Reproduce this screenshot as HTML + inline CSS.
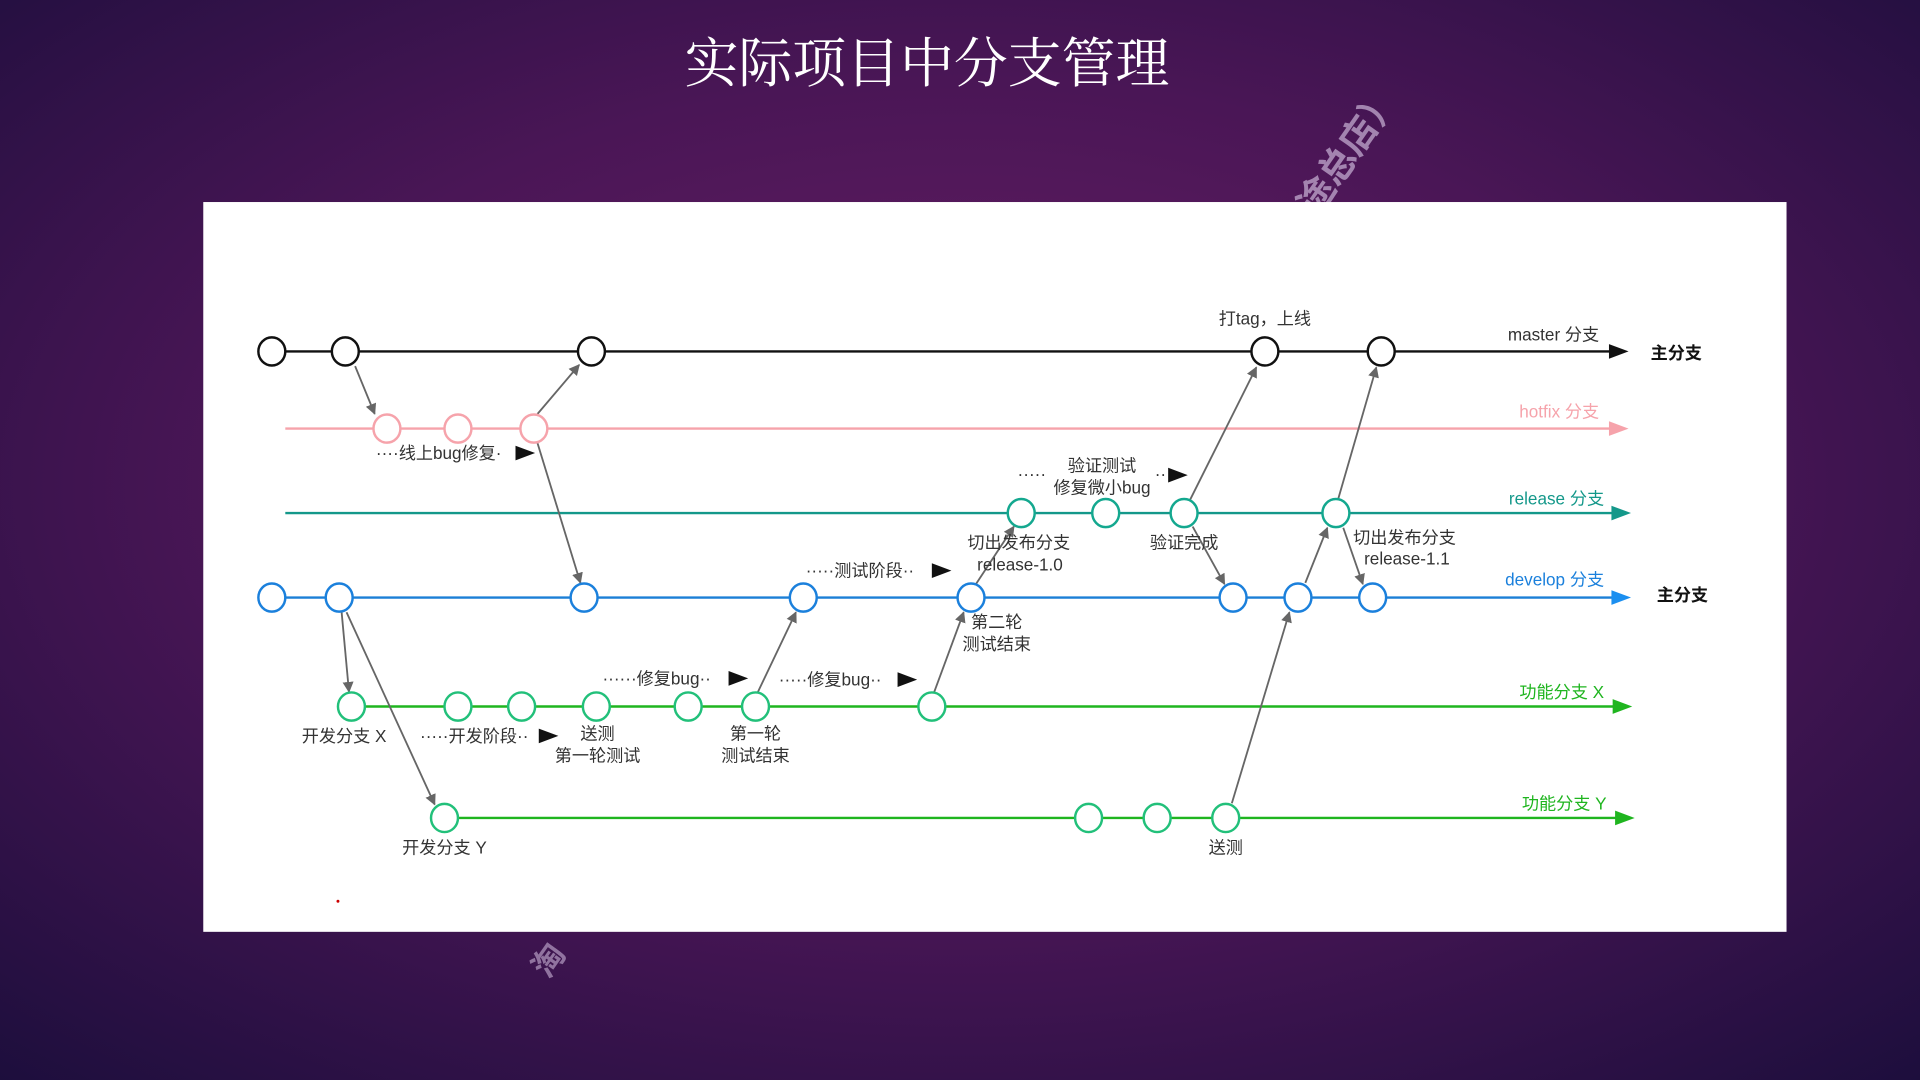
<!DOCTYPE html>
<html><head><meta charset="utf-8"><style>
html,body{margin:0;padding:0;width:1920px;height:1080px;overflow:hidden;background:#2a1048;}
svg{display:block}
.t{font-family:"Liberation Sans","Noto Sans CJK SC",sans-serif;font-size:14px;fill:#333;}
</style></head><body>
<svg width="1920" height="1080" viewBox="0 0 1568 882" xmlns="http://www.w3.org/2000/svg">
<defs>
<radialGradient id="bg" cx="0.5" cy="0.45" r="0.75">
<stop offset="0" stop-color="#6a1f66"/><stop offset="0.5" stop-color="#4a1656"/><stop offset="1" stop-color="#1c0e3c"/>
</radialGradient>
<marker id="ag" viewBox="0 0 10 10" refX="9" refY="5" markerWidth="9" markerHeight="13" orient="auto" markerUnits="userSpaceOnUse"><path d="M0,0L10,5L0,10z" fill="#666"/></marker>
</defs>
<rect width="1568" height="882" fill="url(#bg)"/>
<text x="757" y="67" text-anchor="middle" font-family="'Noto Serif CJK SC',serif" font-size="44" fill="#fff">实际项目中分支管理</text>
<text x="1075" y="178" font-family="'Noto Sans CJK SC',sans-serif" font-size="30" font-weight="bold" fill="#c9b3d6" opacity="0.7" transform="rotate(-55 1075 178)">途总店）</text>
<rect x="166" y="165" width="1293" height="596" fill="#fff"/>
<text x="448" y="800" font-family="'Noto Sans CJK SC',sans-serif" font-size="26" font-weight="bold" fill="#c9b3d6" opacity="0.6" transform="rotate(-55 448 800)">淘</text>

<!-- lines -->
<line x1="222" y1="287" x2="1315" y2="287" stroke="#111" stroke-width="2"/><path d="M1314,281L1330,287L1314,293z" fill="#111"/>
<line x1="233" y1="350" x2="1315" y2="350" stroke="#f6a3ab" stroke-width="2"/><path d="M1314,344L1330,350L1314,356z" fill="#f6a3ab"/>
<line x1="233" y1="419" x2="1317" y2="419" stroke="#14988a" stroke-width="2"/><path d="M1316,413L1332,419L1316,425z" fill="#14988a"/>
<line x1="222" y1="488" x2="1317" y2="488" stroke="#1b7fd6" stroke-width="2"/><path d="M1316,482L1332,488L1316,494z" fill="#1b8ff0"/>
<line x1="287" y1="577" x2="1318" y2="577" stroke="#1fb51f" stroke-width="2"/><path d="M1317,571L1333,577L1317,583z" fill="#1fb51f"/>
<line x1="363" y1="668" x2="1320" y2="668" stroke="#1fb51f" stroke-width="2"/><path d="M1319,662L1335,668L1319,674z" fill="#1fb51f"/>

<!-- arrows -->
<g stroke="#666" stroke-width="1.5" marker-end="url(#ag)" fill="none">
<line x1="290" y1="299" x2="306" y2="338"/>
<line x1="439" y1="338" x2="473" y2="298"/>
<line x1="439" y1="362" x2="474" y2="476"/>
<line x1="279" y1="500" x2="285" y2="565"/>
<line x1="283" y1="500" x2="355" y2="657"/>
<line x1="619" y1="565" x2="650" y2="500"/>
<line x1="763" y1="565" x2="787" y2="500"/>
<line x1="797" y1="477" x2="828" y2="430"/>
<line x1="972" y1="408" x2="1026" y2="300"/>
<line x1="974" y1="430" x2="1000" y2="477"/>
<line x1="1066" y1="476" x2="1084" y2="431"/>
<line x1="1093" y1="407" x2="1124" y2="300"/>
<line x1="1097" y1="431" x2="1113" y2="477"/>
<line x1="1006" y1="656" x2="1053" y2="500"/>
</g>

<!-- nodes -->
<g fill="#fff" stroke-width="2">
<g stroke="#111"><ellipse cx="222" cy="287" rx="11" ry="11.5"/><ellipse cx="282" cy="287" rx="11" ry="11.5"/><ellipse cx="483" cy="287" rx="11" ry="11.5"/><ellipse cx="1033" cy="287" rx="11" ry="11.5"/><ellipse cx="1128" cy="287" rx="11" ry="11.5"/></g>
<g stroke="#f6a3ab"><ellipse cx="316" cy="350" rx="11" ry="11.5"/><ellipse cx="374" cy="350" rx="11" ry="11.5"/><ellipse cx="436" cy="350" rx="11" ry="11.5"/></g>
<g stroke="#14a88f"><ellipse cx="834" cy="419" rx="11" ry="11.5"/><ellipse cx="903" cy="419" rx="11" ry="11.5"/><ellipse cx="967" cy="419" rx="11" ry="11.5"/><ellipse cx="1091" cy="419" rx="11" ry="11.5"/></g>
<g stroke="#1b80dc"><ellipse cx="222" cy="488" rx="11" ry="11.5"/><ellipse cx="277" cy="488" rx="11" ry="11.5"/><ellipse cx="477" cy="488" rx="11" ry="11.5"/><ellipse cx="656" cy="488" rx="11" ry="11.5"/><ellipse cx="793" cy="488" rx="11" ry="11.5"/><ellipse cx="1007" cy="488" rx="11" ry="11.5"/><ellipse cx="1060" cy="488" rx="11" ry="11.5"/><ellipse cx="1121" cy="488" rx="11" ry="11.5"/></g>
<g stroke="#22c07a"><ellipse cx="287" cy="577" rx="11" ry="11.5"/><ellipse cx="374" cy="577" rx="11" ry="11.5"/><ellipse cx="426" cy="577" rx="11" ry="11.5"/><ellipse cx="487" cy="577" rx="11" ry="11.5"/><ellipse cx="562" cy="577" rx="11" ry="11.5"/><ellipse cx="617" cy="577" rx="11" ry="11.5"/><ellipse cx="761" cy="577" rx="11" ry="11.5"/>
<ellipse cx="363" cy="668" rx="11" ry="11.5"/><ellipse cx="889" cy="668" rx="11" ry="11.5"/><ellipse cx="945" cy="668" rx="11" ry="11.5"/><ellipse cx="1001" cy="668" rx="11" ry="11.5"/></g>
</g>

<!-- branch labels -->
<text class="t" x="1306" y="278" text-anchor="end">master 分支</text>
<text class="t" x="1348" y="293" style="font-weight:bold;fill:#111">主分支</text>
<text class="t" x="1306" y="341" text-anchor="end" style="fill:#f6a3ab">hotfix 分支</text>
<text class="t" x="1310" y="412" text-anchor="end" style="fill:#14988a">release 分支</text>
<text class="t" x="1310" y="478" text-anchor="end" style="fill:#1b80dc">develop 分支</text>
<text class="t" x="1353" y="491" style="font-weight:bold;fill:#111">主分支</text>
<text class="t" x="1310" y="570" text-anchor="end" style="fill:#1fb51f">功能分支 X</text>
<text class="t" x="1312" y="661" text-anchor="end" style="fill:#1fb51f">功能分支 Y</text>

<!-- annotations -->
<g class="t">
<text x="307" y="375">····线上bug修复·</text><path d="M421,364L437,370L421,376z" fill="#111"/>
<text x="1033" y="265" text-anchor="middle">打tag，上线</text>
<text x="831" y="392">·····</text>
<text x="900" y="385" text-anchor="middle">验证测试</text>
<text x="900" y="403" text-anchor="middle">修复微小bug</text>
<text x="943" y="392">··</text><path d="M954,382L970,388L954,394z" fill="#111"/>
<text x="832" y="448" text-anchor="middle">切出发布分支</text>
<text x="833" y="466" text-anchor="middle">release-1.0</text>
<text x="967" y="448" text-anchor="middle">验证完成</text>
<text x="1147" y="444" text-anchor="middle">切出发布分支</text>
<text x="1149" y="461" text-anchor="middle">release-1.1</text>
<text x="658" y="471">·····测试阶段··</text><path d="M761,460L777,466L761,472z" fill="#111"/>
<text x="814" y="513" text-anchor="middle">第二轮</text>
<text x="814" y="531" text-anchor="middle">测试结束</text>
<text x="492" y="559">······修复bug··</text><path d="M595,548L611,554L595,560z" fill="#111"/>
<text x="636" y="560">·····修复bug··</text><path d="M733,549L749,555L733,561z" fill="#111"/>
<text x="281" y="606" text-anchor="middle">开发分支 X</text>
<text x="343" y="606">·····开发阶段··</text><path d="M440,595L456,601L440,607z" fill="#111"/>
<text x="488" y="604" text-anchor="middle">送测</text>
<text x="488" y="622" text-anchor="middle">第一轮测试</text>
<text x="617" y="604" text-anchor="middle">第一轮</text>
<text x="617" y="622" text-anchor="middle">测试结束</text>
<text x="363" y="697" text-anchor="middle">开发分支 Y</text>
<text x="1001" y="697" text-anchor="middle">送测</text>
</g>
<circle cx="276" cy="736" r="1.2" fill="#c00"/>
</svg>
</body></html>
